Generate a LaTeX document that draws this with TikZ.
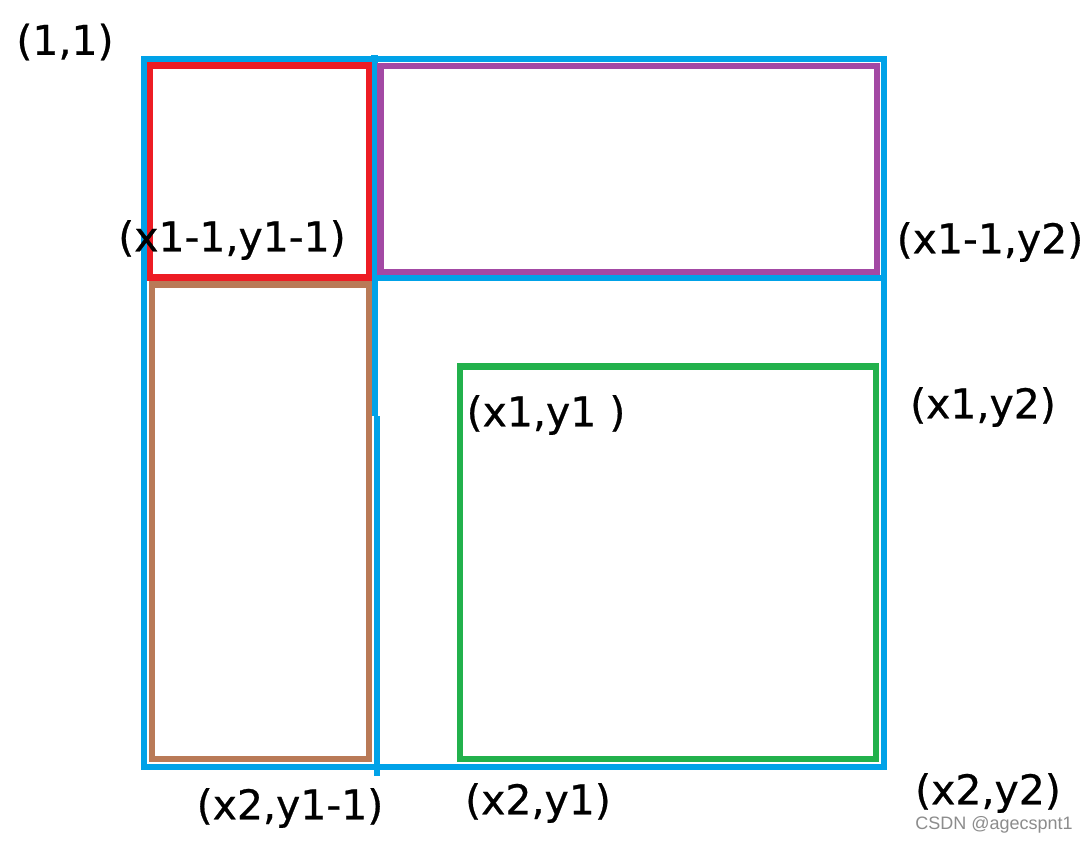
\documentclass[tikz,border=0pt]{standalone}
\usepackage{fontspec}
\setmainfont[FakeBold=0.6,BoldFont={DejaVu Sans}]{DejaVu Sans}
\newfontfamily\markfont{Liberation Sans}
\definecolor{pblue}{HTML}{00A2E8}
\definecolor{pred}{HTML}{ED1C24}
\definecolor{ppurple}{HTML}{A349A4}
\definecolor{pbrown}{HTML}{B97A57}
\definecolor{pgreen}{HTML}{22B14C}

\begin{document}
\begin{tikzpicture}[x=0.5pt,y=-0.5pt,line join=miter]
        \tikzstyle{frame}=[line width=3.4pt]
        \tikzstyle{lbl}=[font=\bfseries\fontsize{20.5}{22}\selectfont,inner sep=0pt]
        \useasboundingbox[fill=white] (0,0) rectangle (1091,842);

        % whole matrix and the two cut lines
        \draw[frame,pblue] (144,59) rectangle (884,767);
        \draw[frame,pblue] (374.5,55) -- (374.5,416);
        \draw[frame,pblue] (377,416) -- (377,776);
        \draw[frame,pblue] (374.5,278) -- (884,278);

        % sub matrices
        \foreach \c/\xa/\ya/\xb/\yb in {pred/150/65.5/369/277.5, ppurple/380.5/66/877/272,
                                        pbrown/152/284.5/369/759, pgreen/460/366.5/876/759}
                \draw[frame,\c] (\xa,\ya) rectangle (\xb,\yb);

        % corner labels
        \foreach \name/\x/\y/\txt in {one/65/42/{(1,1)}, tl/232/240/{(x1-1,y1-1)},
                                     tr/990/242/{(x1-1,y2)}, ga/546/415/{(x1,y1 )},
                                     gr/983/407/{(x1,y2)}, bl/290/808/{(x2,y1-1)},
                                     bm/538/803/{(x2,y1)}, br/988/793/{(x2,y2)}}
                \node[lbl] (L-\name) at (\x,\y) {\txt};

        \node[font=\markfont\fontsize{9}{10}\selectfont,text=black!45,inner sep=0pt] (mark) at (994,825) {CSDN @agecspnt1};
\end{tikzpicture}
\end{document}
